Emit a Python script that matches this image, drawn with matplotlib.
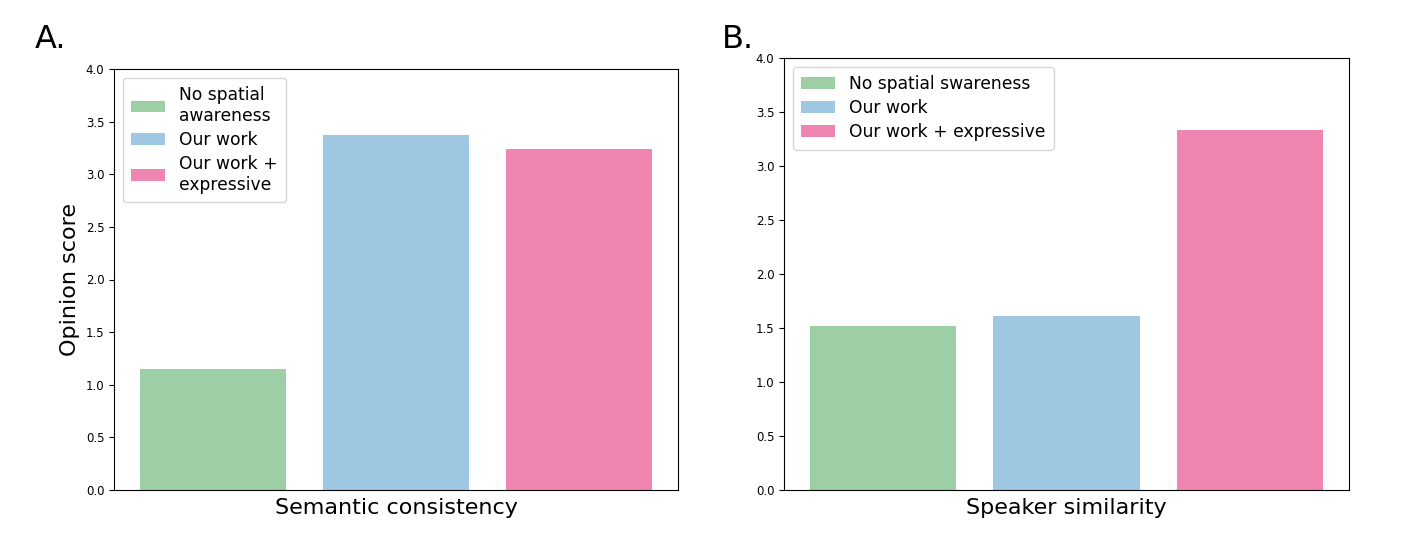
import matplotlib
matplotlib.use("Agg")
import matplotlib.pyplot as plt

# 数据
positions = [0, 1, 2]
colors = ["#9dcea6", "#9ec8e2", "#ef86b1"]

labels_a = ["No spatial\nawareness", "Our work", "Our work +\nexpressive"]
scores_a = [1.15, 3.37, 3.24]

labels_b = ["No spatial swareness", "Our work", "Our work + expressive"]
scores_b = [1.52, 1.61, 3.335]

yticks = [0.0, 0.5, 1.0, 1.5, 2.0, 2.5, 3.0, 3.5, 4.0]


def panel(ax, scores, labels, xlabel):
    for x, s, c, lab in zip(positions, scores, colors, labels):
        ax.bar(x, s, width=0.8, color=c, label=lab)
    ax.set_ylim(0, 4)
    ax.set_yticks(yticks)
    ax.set_xticks([])
    ax.tick_params(axis="y", labelsize=8.5)
    ax.set_xlabel(xlabel, fontsize=16, labelpad=6)
    ax.legend(loc="upper left", fontsize=12.3, handlelength=2.0,
              labelspacing=0.35, borderpad=0.5)


fig = plt.figure(figsize=(14.26, 5.54), dpi=100)

ax1 = fig.add_axes([114 / 1426, 64 / 554, 564 / 1426, 421 / 554])
panel(ax1, scores_a, labels_a, "Semantic consistency")
ax1.set_ylabel("Opinion score", fontsize=16)

ax2 = fig.add_axes([784 / 1426, 64 / 554, 565 / 1426, 432 / 554])
panel(ax2, scores_b, labels_b, "Speaker similarity")

fig.text(35 / 1426, 1 - 48 / 554, "A.", fontsize=23)
fig.text(722 / 1426, 1 - 48 / 554, "B.", fontsize=23)

fig.savefig("out.png", dpi=100)
